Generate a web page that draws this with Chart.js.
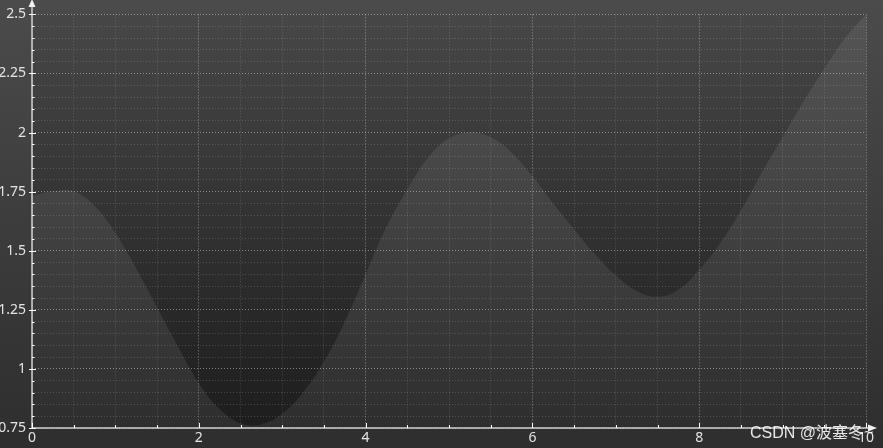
<!DOCTYPE html>
<html>
<head>
<meta charset="utf-8">
<script src="https://cdn.jsdelivr.net/npm/chart.js@4.4.0/dist/chart.umd.min.js"></script>
<style>
  html, body { margin: 0; padding: 0; background: #2e2e2e; }
  #wrap { position: relative; width: 883px; height: 448px; overflow: hidden; }
  #mark {
    position: absolute; left: 750px; top: 419px;
    font: 16px "Liberation Sans", "Noto Sans CJK SC", sans-serif;
    color: rgba(255, 255, 255, 0.88); white-space: nowrap;
  }
</style>
</head>
<body>
<div id="wrap">
  <canvas id="myChart" width="883" height="448"></canvas>
  <div id="mark">CSDN @波塞冬~</div>
</div>
<script>
// values
const xValues = [0, 0.25, 0.5, 0.75, 1, 1.25, 1.5, 1.75, 2, 2.25, 2.5, 2.75, 3, 3.25, 3.5, 3.75, 4, 4.25, 4.5, 4.75,
                 5, 5.25, 5.5, 5.75, 6, 6.25, 6.5, 6.75, 7, 7.25, 7.5, 7.75, 8, 8.25, 8.5, 8.75, 9, 9.25, 9.5, 9.75, 10];
const yValues = [1.733, 1.752, 1.752, 1.69, 1.575, 1.425, 1.26, 1.095, 0.94, 0.83, 0.77, 0.765, 0.81, 0.90, 1.03, 1.20,
                 1.40, 1.60, 1.76, 1.895, 1.975, 2.0, 1.98, 1.915, 1.815, 1.70, 1.59, 1.485, 1.395, 1.33, 1.305, 1.335,
                 1.42, 1.53, 1.67, 1.83, 1.98, 2.13, 2.27, 2.40, 2.5];
const xTickLabels = ['0', '2', '4', '6', '8', '10'];
const yTickLabels = ['0.75', '1', '1.25', '1.5', '1.75', '2', '2.25', '2.5'];

function findLabel(labels, value) {
    let hit = labels.find(l => Math.abs(parseFloat(l) - value) < 1e-6);
    return hit === undefined ? '' : hit;
}

const majorGrid = 'rgba(255, 255, 255, 0.42)';
const minorGrid = 'rgba(255, 255, 255, 0.17)';

// backgrounds: whole canvas, then plot area (the part above the curve)
const backgroundPlugin = {
    id: 'backgrounds',
    beforeDraw(chart) {
        const ctx = chart.ctx;
        const area = chart.chartArea;
        ctx.save();
        let g = ctx.createLinearGradient(0, 0, 0, chart.height);
        g.addColorStop(0, '#4b4b4b');
        g.addColorStop(1, '#2e2e2e');
        ctx.fillStyle = g;
        ctx.fillRect(0, 0, chart.width, chart.height);
        let g2 = ctx.createLinearGradient(0, area.top, 0, area.bottom);
        g2.addColorStop(0, '#474747');
        g2.addColorStop(1, '#1d1d1d');
        ctx.fillStyle = g2;
        ctx.fillRect(area.left, area.top, area.right - area.left, area.bottom - area.top);
        ctx.restore();
    }
};

// axis lines with arrows and tick marks
const axesPlugin = {
    id: 'axes',
    afterDraw(chart) {
        const ctx = chart.ctx;
        const area = chart.chartArea;
        const xs = chart.scales.x, ys = chart.scales.y;
        ctx.save();
        ctx.strokeStyle = '#cfcfcf';
        ctx.fillStyle = '#f0f0f0';
        ctx.lineWidth = 1.5;
        ctx.beginPath();
        ctx.moveTo(area.left, area.bottom);
        ctx.lineTo(area.left, 5);
        ctx.moveTo(area.left, area.bottom);
        ctx.lineTo(871, area.bottom);
        ctx.stroke();

        ctx.beginPath();
        ctx.moveTo(area.left - 3.5, 7);
        ctx.lineTo(area.left + 3.5, 7);
        ctx.lineTo(area.left, -1);
        ctx.closePath();
        ctx.fill();
        ctx.beginPath();
        ctx.moveTo(868, area.bottom - 3.5);
        ctx.lineTo(868, area.bottom + 3.5);
        ctx.lineTo(877, area.bottom);
        ctx.closePath();
        ctx.fill();

        ctx.strokeStyle = '#ffffff';
        ctx.lineWidth = 1;
        ys.ticks.forEach(t => {
            const y = Math.round(ys.getPixelForValue(t.value)) + 0.5;
            const major = findLabel(yTickLabels, t.value) !== '';
            ctx.beginPath();
            ctx.moveTo(area.left - (major ? 3 : 0), y);
            ctx.lineTo(area.left + (major ? 4 : 2.5), y);
            ctx.stroke();
        });
        xs.ticks.forEach(t => {
            const x = Math.round(xs.getPixelForValue(t.value)) + 0.5;
            const major = findLabel(xTickLabels, t.value) !== '';
            ctx.beginPath();
            ctx.moveTo(x, area.bottom);
            ctx.lineTo(x, area.bottom - (major ? 5 : 3));
            ctx.stroke();
        });
        ctx.restore();
    }
};

const points = xValues.map((x, i) => ({ x: x, y: yValues[i] }));

new Chart(document.getElementById('myChart').getContext('2d'), {
    type: 'line',
    data: {
        datasets: [{
            data: points,
            borderWidth: 0,
            borderColor: 'rgba(0,0,0,0)',
            pointRadius: 0,
            tension: 0.4,
            fill: 'start',
            backgroundColor: function(context) {
                const area = context.chart.chartArea;
                if (!area) return '#444444';
                const g = context.chart.ctx.createLinearGradient(0, area.top, 0, area.bottom);
                g.addColorStop(0, '#555555');
                g.addColorStop(1, '#2e2e2e');
                return g;
            }
        }]
    },
    options: {
        responsive: false,
        animation: false,
        devicePixelRatio: 1,
        layout: { padding: { top: 10, right: 17, left: 0, bottom: 0 } },
        plugins: { legend: { display: false }, tooltip: { enabled: false } },
        scales: {
            x: {
                type: 'linear',
                min: 0,
                max: 10,
                afterFit: scale => { scale.height = 20; },
                border: { display: false, dash: [1, 2] },
                grid: {
                    z: 1,
                    drawTicks: false,
                    lineWidth: 1,
                    color: c => findLabel(xTickLabels, c.tick.value) !== '' ? majorGrid : minorGrid
                },
                ticks: {
                    stepSize: 0.5,
                    autoSkip: false,
                    maxRotation: 0,
                    padding: 2,
                    color: '#e4e4e4',
                    font: { family: 'Noto Sans', size: 14 },
                    callback: value => findLabel(xTickLabels, value)
                }
            },
            y: {
                min: 0.75,
                max: 2.5,
                afterFit: scale => { scale.width = 32; },
                border: { display: false, dash: [1, 2] },
                grid: {
                    z: 1,
                    drawTicks: false,
                    lineWidth: 1,
                    color: c => findLabel(yTickLabels, c.tick.value) !== '' ? majorGrid : minorGrid
                },
                ticks: {
                    stepSize: 0.05,
                    maxTicksLimit: 100,
                    autoSkip: false,
                    padding: 6,
                    color: '#e4e4e4',
                    font: { family: 'Noto Sans', size: 14 },
                    callback: value => findLabel(yTickLabels, value)
                }
            }
        }
    },
    plugins: [backgroundPlugin, axesPlugin]
});
</script>
</body>
</html>
